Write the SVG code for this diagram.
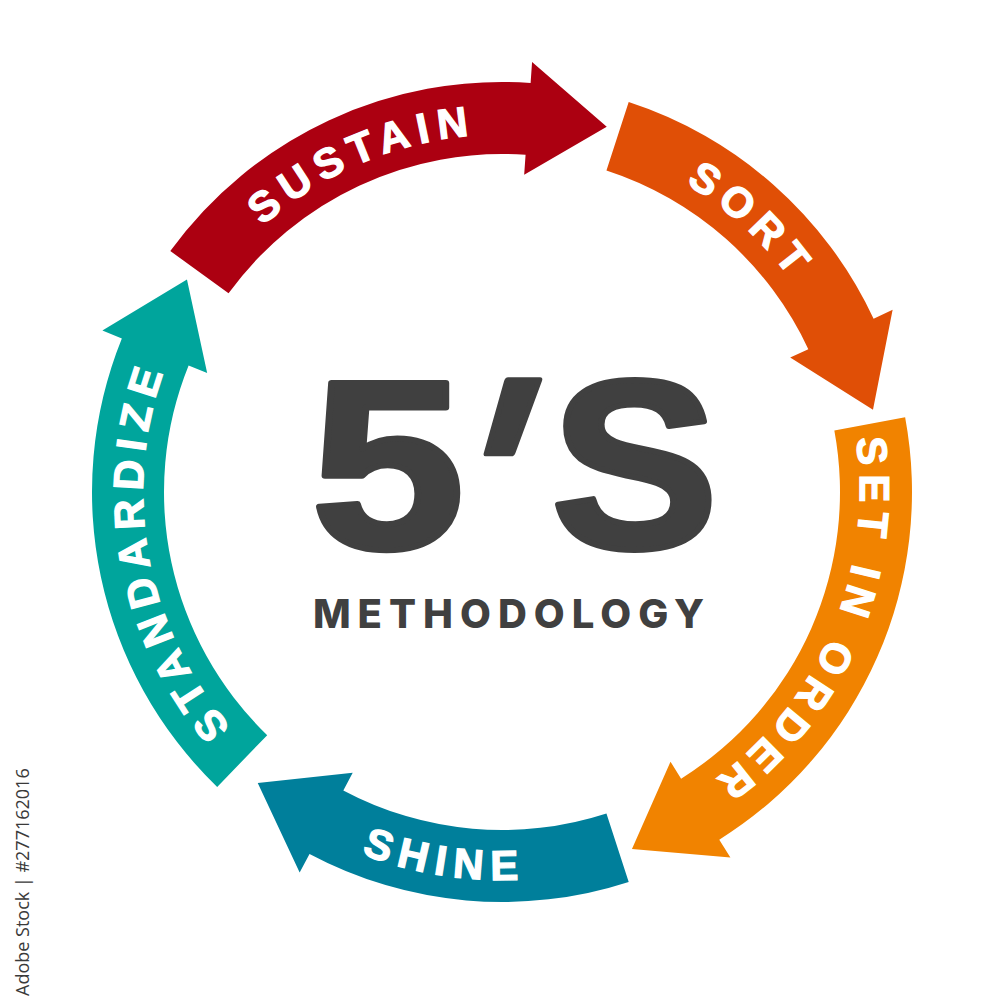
<svg xmlns="http://www.w3.org/2000/svg" xmlns:xlink="http://www.w3.org/1999/xlink" width="1000" height="1000" viewBox="0 0 1000 1000">
  <style>
    .lbl { font-family: "Liberation Sans", Arial, sans-serif; font-weight: 700; font-size: 42px; fill: #ffffff; stroke: #ffffff; stroke-width: 1.3px; letter-spacing: 8px; }
    .title { font-family: "Liberation Sans", Arial, sans-serif; font-weight: 700; font-size: 240px; fill: #404040; stroke: #404040; stroke-width: 6px; stroke-linejoin: round; }
    .sub { font-family: Inter, "Liberation Sans", sans-serif; font-weight: 800; fill: #404040; }
    .wm { font-family: "Open Sans", "Liberation Sans", sans-serif; font-size: 18px; fill: #3a3a3a; }
  </style>
  <defs>
    <path id="tp-sustain" d="M171.54,632.27 A359,359 0 0 1 832.46,351.73"/>
    <path id="tp-sort" d="M237.74,249 A359,359 0 0 1 766.26,735"/>
    <path id="tp-set" d="M642.27,161.54 A359,359 0 0 1 361.73,822.46"/>
    <path id="tp-shine" d="M117.58,432.49 A389,389 0 0 0 886.42,551.51"/>
    <path id="tp-std" d="M565.57,845.33 A359,359 0 0 1 438.43,138.67"/>
  </defs>
  <rect width="1000" height="1000" fill="#ffffff"/>

  <g id="connectors">
    <g id="sustain">
      <path fill="#AC0011" d="M170.30,251.01 A410,410 0 0 1 530.60,83.00 L532.07,62.05 L606.74,126.72 L524.18,174.77 L525.58,154.82 A338,338 0 0 0 228.55,293.33 Z"/>
      <text class="lbl"><textPath xlink:href="#tp-sustain" href="#tp-sustain" startOffset="50%" text-anchor="middle">SUSTAIN</textPath></text>
    </g>
    <g id="sort">
      <path fill="#E04F06" d="M628.70,102.07 A410,410 0 0 1 873.59,318.73 L892.62,309.85 L872.99,409.75 L790.21,357.61 L808.33,349.16 A338,338 0 0 0 606.45,170.54 Z"/>
      <text class="lbl"><textPath xlink:href="#tp-sort" href="#tp-sort" startOffset="50%" text-anchor="middle">SORT</textPath></text>
    </g>
    <g id="set-in-order">
      <path fill="#F18300" d="M905.13,417.28 A410,410 0 0 1 719.27,839.70 L730.40,857.51 L631.97,849.08 L670.51,761.68 L681.11,778.64 A338,338 0 0 0 834.34,430.40 Z"/>
      <text class="lbl"><textPath xlink:href="#tp-set" href="#tp-set" startOffset="50%" text-anchor="middle">SET IN ORDER</textPath></text>
    </g>
    <g id="shine">
      <path fill="#007F9B" d="M628.70,881.93 A410,410 0 0 1 309.52,854.01 L299.66,872.55 L257.74,783.10 L352.71,772.78 L343.32,790.44 A338,338 0 0 0 606.45,813.46 Z"/>
      <text class="lbl"><textPath xlink:href="#tp-shine" href="#tp-shine" startOffset="50%" text-anchor="middle">SHINE</textPath></text>
    </g>
    <g id="standardize">
      <path fill="#00A59C" d="M217.19,786.93 A410,410 0 0 1 121.85,338.41 L102.38,330.54 L186.97,279.51 L207.16,372.88 L188.61,365.38 A338,338 0 0 0 267.21,735.14 Z"/>
      <text class="lbl"><textPath xlink:href="#tp-std" href="#tp-std" startOffset="50%" text-anchor="middle">STANDARDIZE</textPath></text>
    </g>
  </g>

  <g id="center">
    <text class="title" transform="translate(311,548) scale(1.15,1)">5</text>
    <text class="title" transform="translate(430,579) skewX(-18) scale(1,1.2)">'</text>
    <text class="title" transform="translate(551,548) scale(1.045,1)">S</text>
    <text class="sub" x="512" y="628" font-size="40" text-anchor="middle" letter-spacing="7">METHODOLOGY</text>
  </g>

  <text class="wm" transform="translate(29,996) rotate(-90)">Adobe Stock | #277162016</text>
</svg>
